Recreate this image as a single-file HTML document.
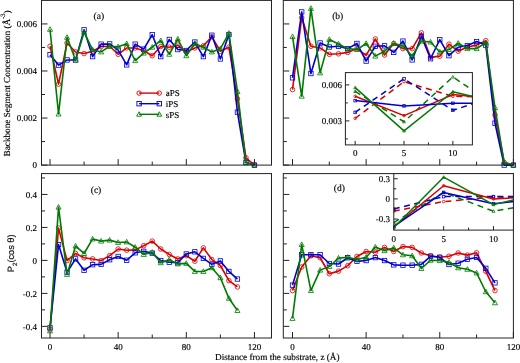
<!DOCTYPE html>
<html><head><meta charset="utf-8"><title>Figure</title>
<style>html,body{margin:0;padding:0;background:#fff;}svg{display:block;filter:blur(0.35px);}text{text-rendering:geometricPrecision;fill:#000;stroke:#000;stroke-width:0.15px;}</style>
</head><body>
<svg width="520" height="363" viewBox="0 0 520 363" font-family='"Liberation Serif", serif'>
<rect width="520" height="363" fill="#fff"/>
<defs>
<clipPath id="ca"><rect x="41.5" y="0.4" width="230" height="164.7"/></clipPath>
<clipPath id="cb"><rect x="283.3" y="0.4" width="230.1" height="164.7"/></clipPath>
<clipPath id="cc"><rect x="41.5" y="173.6" width="230" height="164.4"/></clipPath>
<clipPath id="cd"><rect x="283.3" y="173.6" width="230.1" height="164.4"/></clipPath>
</defs>
<g>
<polyline points="50.02,46.28 58.54,84.16 67.06,42.99 75.57,51.93 84.09,53.57 92.61,51.22 101.13,46.52 109.65,46.28 118.17,54.28 126.69,47.93 135.2,47.93 143.72,50.75 152.24,55.69 160.76,46.52 169.28,47.22 177.8,45.1 186.31,51.93 194.83,47.93 203.35,45.81 211.87,36.87 220.39,51.22 228.91,47.22 237.43,98.75 245.94,157.81 254.46,165.1" fill="none" stroke="#d80000" stroke-width="1.6" stroke-linejoin="round"/>
<circle cx="50.02" cy="46.28" r="2.3" fill="none" stroke="#d80000" stroke-width="0.8"/>
<circle cx="58.54" cy="84.16" r="2.3" fill="none" stroke="#d80000" stroke-width="0.8"/>
<circle cx="67.06" cy="42.99" r="2.3" fill="none" stroke="#d80000" stroke-width="0.8"/>
<circle cx="75.57" cy="51.93" r="2.3" fill="none" stroke="#d80000" stroke-width="0.8"/>
<circle cx="84.09" cy="53.57" r="2.3" fill="none" stroke="#d80000" stroke-width="0.8"/>
<circle cx="92.61" cy="51.22" r="2.3" fill="none" stroke="#d80000" stroke-width="0.8"/>
<circle cx="101.13" cy="46.52" r="2.3" fill="none" stroke="#d80000" stroke-width="0.8"/>
<circle cx="109.65" cy="46.28" r="2.3" fill="none" stroke="#d80000" stroke-width="0.8"/>
<circle cx="118.17" cy="54.28" r="2.3" fill="none" stroke="#d80000" stroke-width="0.8"/>
<circle cx="126.69" cy="47.93" r="2.3" fill="none" stroke="#d80000" stroke-width="0.8"/>
<circle cx="135.2" cy="47.93" r="2.3" fill="none" stroke="#d80000" stroke-width="0.8"/>
<circle cx="143.72" cy="50.75" r="2.3" fill="none" stroke="#d80000" stroke-width="0.8"/>
<circle cx="152.24" cy="55.69" r="2.3" fill="none" stroke="#d80000" stroke-width="0.8"/>
<circle cx="160.76" cy="46.52" r="2.3" fill="none" stroke="#d80000" stroke-width="0.8"/>
<circle cx="169.28" cy="47.22" r="2.3" fill="none" stroke="#d80000" stroke-width="0.8"/>
<circle cx="177.8" cy="45.1" r="2.3" fill="none" stroke="#d80000" stroke-width="0.8"/>
<circle cx="186.31" cy="51.93" r="2.3" fill="none" stroke="#d80000" stroke-width="0.8"/>
<circle cx="194.83" cy="47.93" r="2.3" fill="none" stroke="#d80000" stroke-width="0.8"/>
<circle cx="203.35" cy="45.81" r="2.3" fill="none" stroke="#d80000" stroke-width="0.8"/>
<circle cx="211.87" cy="36.87" r="2.3" fill="none" stroke="#d80000" stroke-width="0.8"/>
<circle cx="220.39" cy="51.22" r="2.3" fill="none" stroke="#d80000" stroke-width="0.8"/>
<circle cx="228.91" cy="47.22" r="2.3" fill="none" stroke="#d80000" stroke-width="0.8"/>
<circle cx="237.43" cy="98.75" r="2.3" fill="none" stroke="#d80000" stroke-width="0.8"/>
<circle cx="245.94" cy="157.81" r="2.3" fill="none" stroke="#d80000" stroke-width="0.8"/>
<circle cx="254.46" cy="165.1" r="2.3" fill="none" stroke="#d80000" stroke-width="0.8"/>
</g>
<g>
<polyline points="50.02,54.75 58.54,65.1 67.06,59.93 75.57,59.93 84.09,29.81 92.61,56.63 101.13,44.16 109.65,43.93 118.17,50.05 126.69,64.87 135.2,44.16 143.72,49.1 152.24,34.75 160.76,56.63 169.28,39.46 177.8,49.57 186.31,50.52 194.83,42.05 203.35,56.63 211.87,35.22 220.39,58.99 228.91,34.52 237.43,112.16 245.94,162.51 254.46,165.1" fill="none" stroke="#0000d0" stroke-width="1.6" stroke-linejoin="round"/>
<rect x="47.82" y="52.55" width="4.4" height="4.4" fill="none" stroke="#0000d0" stroke-width="0.8"/>
<rect x="56.34" y="62.9" width="4.4" height="4.4" fill="none" stroke="#0000d0" stroke-width="0.8"/>
<rect x="64.86" y="57.73" width="4.4" height="4.4" fill="none" stroke="#0000d0" stroke-width="0.8"/>
<rect x="73.37" y="57.73" width="4.4" height="4.4" fill="none" stroke="#0000d0" stroke-width="0.8"/>
<rect x="81.89" y="27.61" width="4.4" height="4.4" fill="none" stroke="#0000d0" stroke-width="0.8"/>
<rect x="90.41" y="54.43" width="4.4" height="4.4" fill="none" stroke="#0000d0" stroke-width="0.8"/>
<rect x="98.93" y="41.96" width="4.4" height="4.4" fill="none" stroke="#0000d0" stroke-width="0.8"/>
<rect x="107.45" y="41.73" width="4.4" height="4.4" fill="none" stroke="#0000d0" stroke-width="0.8"/>
<rect x="115.97" y="47.85" width="4.4" height="4.4" fill="none" stroke="#0000d0" stroke-width="0.8"/>
<rect x="124.49" y="62.67" width="4.4" height="4.4" fill="none" stroke="#0000d0" stroke-width="0.8"/>
<rect x="133" y="41.96" width="4.4" height="4.4" fill="none" stroke="#0000d0" stroke-width="0.8"/>
<rect x="141.52" y="46.9" width="4.4" height="4.4" fill="none" stroke="#0000d0" stroke-width="0.8"/>
<rect x="150.04" y="32.55" width="4.4" height="4.4" fill="none" stroke="#0000d0" stroke-width="0.8"/>
<rect x="158.56" y="54.43" width="4.4" height="4.4" fill="none" stroke="#0000d0" stroke-width="0.8"/>
<rect x="167.08" y="37.26" width="4.4" height="4.4" fill="none" stroke="#0000d0" stroke-width="0.8"/>
<rect x="175.6" y="47.37" width="4.4" height="4.4" fill="none" stroke="#0000d0" stroke-width="0.8"/>
<rect x="184.11" y="48.32" width="4.4" height="4.4" fill="none" stroke="#0000d0" stroke-width="0.8"/>
<rect x="192.63" y="39.85" width="4.4" height="4.4" fill="none" stroke="#0000d0" stroke-width="0.8"/>
<rect x="201.15" y="54.43" width="4.4" height="4.4" fill="none" stroke="#0000d0" stroke-width="0.8"/>
<rect x="209.67" y="33.02" width="4.4" height="4.4" fill="none" stroke="#0000d0" stroke-width="0.8"/>
<rect x="218.19" y="56.79" width="4.4" height="4.4" fill="none" stroke="#0000d0" stroke-width="0.8"/>
<rect x="226.71" y="32.32" width="4.4" height="4.4" fill="none" stroke="#0000d0" stroke-width="0.8"/>
<rect x="235.23" y="109.96" width="4.4" height="4.4" fill="none" stroke="#0000d0" stroke-width="0.8"/>
<rect x="243.74" y="160.31" width="4.4" height="4.4" fill="none" stroke="#0000d0" stroke-width="0.8"/>
<rect x="252.26" y="162.9" width="4.4" height="4.4" fill="none" stroke="#0000d0" stroke-width="0.8"/>
</g>
<g>
<polyline points="50.02,29.34 58.54,114.04 67.06,37.34 75.57,60.16 84.09,32.16 92.61,49.81 101.13,51.93 109.65,46.28 118.17,46.75 126.69,43.69 135.2,60.63 143.72,53.1 152.24,47.22 160.76,40.63 169.28,54.28 177.8,38.99 186.31,55.69 194.83,43.46 203.35,47.22 211.87,51.93 220.39,48.63 228.91,33.34 237.43,91.46 245.94,162.51 254.46,165.1" fill="none" stroke="#007a00" stroke-width="1.6" stroke-linejoin="round"/>
<path d="M50.02 26.7L52.55 31.32L47.49 31.32Z" fill="none" stroke="#007a00" stroke-width="0.8"/>
<path d="M58.54 111.4L61.07 116.03L56.01 116.03Z" fill="none" stroke="#007a00" stroke-width="0.8"/>
<path d="M67.06 34.69L69.59 39.32L64.53 39.32Z" fill="none" stroke="#007a00" stroke-width="0.8"/>
<path d="M75.57 57.52L78.1 62.15L73.04 62.15Z" fill="none" stroke="#007a00" stroke-width="0.8"/>
<path d="M84.09 29.52L86.62 34.15L81.56 34.15Z" fill="none" stroke="#007a00" stroke-width="0.8"/>
<path d="M92.61 47.17L95.14 51.79L90.08 51.79Z" fill="none" stroke="#007a00" stroke-width="0.8"/>
<path d="M101.13 49.28L103.66 53.91L98.6 53.91Z" fill="none" stroke="#007a00" stroke-width="0.8"/>
<path d="M109.65 43.64L112.18 48.26L107.12 48.26Z" fill="none" stroke="#007a00" stroke-width="0.8"/>
<path d="M118.17 44.11L120.7 48.74L115.64 48.74Z" fill="none" stroke="#007a00" stroke-width="0.8"/>
<path d="M126.69 41.05L129.22 45.68L124.16 45.68Z" fill="none" stroke="#007a00" stroke-width="0.8"/>
<path d="M135.2 57.99L137.73 62.62L132.67 62.62Z" fill="none" stroke="#007a00" stroke-width="0.8"/>
<path d="M143.72 50.46L146.25 55.09L141.19 55.09Z" fill="none" stroke="#007a00" stroke-width="0.8"/>
<path d="M152.24 44.58L154.77 49.21L149.71 49.21Z" fill="none" stroke="#007a00" stroke-width="0.8"/>
<path d="M160.76 37.99L163.29 42.62L158.23 42.62Z" fill="none" stroke="#007a00" stroke-width="0.8"/>
<path d="M169.28 51.64L171.81 56.26L166.75 56.26Z" fill="none" stroke="#007a00" stroke-width="0.8"/>
<path d="M177.8 36.34L180.33 40.97L175.27 40.97Z" fill="none" stroke="#007a00" stroke-width="0.8"/>
<path d="M186.31 53.05L188.84 57.68L183.78 57.68Z" fill="none" stroke="#007a00" stroke-width="0.8"/>
<path d="M194.83 40.81L197.36 45.44L192.3 45.44Z" fill="none" stroke="#007a00" stroke-width="0.8"/>
<path d="M203.35 44.58L205.88 49.21L200.82 49.21Z" fill="none" stroke="#007a00" stroke-width="0.8"/>
<path d="M211.87 49.28L214.4 53.91L209.34 53.91Z" fill="none" stroke="#007a00" stroke-width="0.8"/>
<path d="M220.39 45.99L222.92 50.62L217.86 50.62Z" fill="none" stroke="#007a00" stroke-width="0.8"/>
<path d="M228.91 30.7L231.44 35.32L226.38 35.32Z" fill="none" stroke="#007a00" stroke-width="0.8"/>
<path d="M237.43 88.81L239.96 93.44L234.9 93.44Z" fill="none" stroke="#007a00" stroke-width="0.8"/>
<path d="M245.94 159.87L248.47 164.5L243.41 164.5Z" fill="none" stroke="#007a00" stroke-width="0.8"/>
<path d="M254.46 162.45L256.99 167.08L251.93 167.08Z" fill="none" stroke="#007a00" stroke-width="0.8"/>
</g>
<rect x="41.5" y="0.4" width="230" height="164.7" fill="none" stroke="#222" stroke-width="1.0"/>
<path d="M50.02 165.1V159.1M118.17 165.1V159.1M186.31 165.1V159.1M254.46 165.1V159.1M84.09 165.1V161.6M152.24 165.1V161.6M220.39 165.1V161.6" stroke="#222" stroke-width="1.0" fill="none"/>
<path d="M41.5 165.1H47.5M41.5 118.04H47.5M41.5 70.99H47.5M41.5 23.93H47.5M41.5 141.57H45M41.5 94.51H45M41.5 47.46H45" stroke="#222" stroke-width="1.0" fill="none"/>
<text x="37" y="168.3" text-anchor="end" font-size="9">0</text>
<text x="37" y="121.24" text-anchor="end" font-size="9">0.002</text>
<text x="37" y="74.19" text-anchor="end" font-size="9">0.004</text>
<text x="37" y="27.13" text-anchor="end" font-size="9">0.006</text>
<text x="98.8" y="18.6" text-anchor="middle" font-size="9.5">(a)</text>
<line x1="139.1" y1="93.1" x2="159.3" y2="93.1" stroke="#d80000" stroke-width="1.4"/>
<circle cx="139.1" cy="93.1" r="2.2" fill="none" stroke="#d80000" stroke-width="0.9"/>
<circle cx="159.3" cy="93.1" r="2.2" fill="none" stroke="#d80000" stroke-width="0.9"/>
<text x="165.8" y="96.3" font-size="9">aPS</text>
<line x1="139.1" y1="103.7" x2="159.3" y2="103.7" stroke="#0000d0" stroke-width="1.4"/>
<rect x="136.9" y="101.5" width="4.4" height="4.4" fill="none" stroke="#0000d0" stroke-width="0.9"/>
<rect x="157.1" y="101.5" width="4.4" height="4.4" fill="none" stroke="#0000d0" stroke-width="0.9"/>
<text x="165.8" y="106.9" font-size="9">iPS</text>
<line x1="139.1" y1="114.3" x2="159.3" y2="114.3" stroke="#007a00" stroke-width="1.4"/>
<path d="M139.1 111.77L141.52 116.2L136.68 116.2Z" fill="none" stroke="#007a00" stroke-width="0.9"/>
<path d="M159.3 111.77L161.72 116.2L156.88 116.2Z" fill="none" stroke="#007a00" stroke-width="0.9"/>
<text x="165.8" y="117.5" font-size="9">sPS</text>
<g>
<polyline points="292.5,89.57 301.71,17.58 310.91,46.28 320.12,47.93 329.32,54.28 338.52,53.81 347.73,52.4 356.93,48.63 366.14,55.46 375.34,38.99 384.54,54.99 393.75,43.46 402.95,48.63 412.16,48.63 421.36,32.87 430.56,57.34 439.77,56.16 448.97,44.16 458.18,51.22 467.38,46.99 476.58,45.1 485.79,40.63 494.99,114.98 504.2,162.51 513.4,165.1" fill="none" stroke="#d80000" stroke-width="1.6" stroke-linejoin="round"/>
<circle cx="292.5" cy="89.57" r="2.3" fill="none" stroke="#d80000" stroke-width="0.8"/>
<circle cx="301.71" cy="17.58" r="2.3" fill="none" stroke="#d80000" stroke-width="0.8"/>
<circle cx="310.91" cy="46.28" r="2.3" fill="none" stroke="#d80000" stroke-width="0.8"/>
<circle cx="320.12" cy="47.93" r="2.3" fill="none" stroke="#d80000" stroke-width="0.8"/>
<circle cx="329.32" cy="54.28" r="2.3" fill="none" stroke="#d80000" stroke-width="0.8"/>
<circle cx="338.52" cy="53.81" r="2.3" fill="none" stroke="#d80000" stroke-width="0.8"/>
<circle cx="347.73" cy="52.4" r="2.3" fill="none" stroke="#d80000" stroke-width="0.8"/>
<circle cx="356.93" cy="48.63" r="2.3" fill="none" stroke="#d80000" stroke-width="0.8"/>
<circle cx="366.14" cy="55.46" r="2.3" fill="none" stroke="#d80000" stroke-width="0.8"/>
<circle cx="375.34" cy="38.99" r="2.3" fill="none" stroke="#d80000" stroke-width="0.8"/>
<circle cx="384.54" cy="54.99" r="2.3" fill="none" stroke="#d80000" stroke-width="0.8"/>
<circle cx="393.75" cy="43.46" r="2.3" fill="none" stroke="#d80000" stroke-width="0.8"/>
<circle cx="402.95" cy="48.63" r="2.3" fill="none" stroke="#d80000" stroke-width="0.8"/>
<circle cx="412.16" cy="48.63" r="2.3" fill="none" stroke="#d80000" stroke-width="0.8"/>
<circle cx="421.36" cy="32.87" r="2.3" fill="none" stroke="#d80000" stroke-width="0.8"/>
<circle cx="430.56" cy="57.34" r="2.3" fill="none" stroke="#d80000" stroke-width="0.8"/>
<circle cx="439.77" cy="56.16" r="2.3" fill="none" stroke="#d80000" stroke-width="0.8"/>
<circle cx="448.97" cy="44.16" r="2.3" fill="none" stroke="#d80000" stroke-width="0.8"/>
<circle cx="458.18" cy="51.22" r="2.3" fill="none" stroke="#d80000" stroke-width="0.8"/>
<circle cx="467.38" cy="46.99" r="2.3" fill="none" stroke="#d80000" stroke-width="0.8"/>
<circle cx="476.58" cy="45.1" r="2.3" fill="none" stroke="#d80000" stroke-width="0.8"/>
<circle cx="485.79" cy="40.63" r="2.3" fill="none" stroke="#d80000" stroke-width="0.8"/>
<circle cx="494.99" cy="114.98" r="2.3" fill="none" stroke="#d80000" stroke-width="0.8"/>
<circle cx="504.2" cy="162.51" r="2.3" fill="none" stroke="#d80000" stroke-width="0.8"/>
<circle cx="513.4" cy="165.1" r="2.3" fill="none" stroke="#d80000" stroke-width="0.8"/>
</g>
<g>
<polyline points="292.5,77.81 301.71,11.93 310.91,73.57 320.12,42.99 329.32,46.99 338.52,46.28 347.73,48.63 356.93,43.46 366.14,61.1 375.34,46.28 384.54,45.81 393.75,52.4 402.95,41.1 412.16,59.93 421.36,36.4 430.56,58.75 439.77,39.69 448.97,55.69 458.18,47.22 467.38,45.57 476.58,41.58 485.79,45.1 494.99,123.22 504.2,165.1 513.4,165.1" fill="none" stroke="#0000d0" stroke-width="1.6" stroke-linejoin="round"/>
<rect x="290.3" y="75.61" width="4.4" height="4.4" fill="none" stroke="#0000d0" stroke-width="0.8"/>
<rect x="299.51" y="9.73" width="4.4" height="4.4" fill="none" stroke="#0000d0" stroke-width="0.8"/>
<rect x="308.71" y="71.37" width="4.4" height="4.4" fill="none" stroke="#0000d0" stroke-width="0.8"/>
<rect x="317.92" y="40.79" width="4.4" height="4.4" fill="none" stroke="#0000d0" stroke-width="0.8"/>
<rect x="327.12" y="44.79" width="4.4" height="4.4" fill="none" stroke="#0000d0" stroke-width="0.8"/>
<rect x="336.32" y="44.08" width="4.4" height="4.4" fill="none" stroke="#0000d0" stroke-width="0.8"/>
<rect x="345.53" y="46.43" width="4.4" height="4.4" fill="none" stroke="#0000d0" stroke-width="0.8"/>
<rect x="354.73" y="41.26" width="4.4" height="4.4" fill="none" stroke="#0000d0" stroke-width="0.8"/>
<rect x="363.94" y="58.9" width="4.4" height="4.4" fill="none" stroke="#0000d0" stroke-width="0.8"/>
<rect x="373.14" y="44.08" width="4.4" height="4.4" fill="none" stroke="#0000d0" stroke-width="0.8"/>
<rect x="382.34" y="43.61" width="4.4" height="4.4" fill="none" stroke="#0000d0" stroke-width="0.8"/>
<rect x="391.55" y="50.2" width="4.4" height="4.4" fill="none" stroke="#0000d0" stroke-width="0.8"/>
<rect x="400.75" y="38.9" width="4.4" height="4.4" fill="none" stroke="#0000d0" stroke-width="0.8"/>
<rect x="409.96" y="57.73" width="4.4" height="4.4" fill="none" stroke="#0000d0" stroke-width="0.8"/>
<rect x="419.16" y="34.2" width="4.4" height="4.4" fill="none" stroke="#0000d0" stroke-width="0.8"/>
<rect x="428.36" y="56.55" width="4.4" height="4.4" fill="none" stroke="#0000d0" stroke-width="0.8"/>
<rect x="437.57" y="37.49" width="4.4" height="4.4" fill="none" stroke="#0000d0" stroke-width="0.8"/>
<rect x="446.77" y="53.49" width="4.4" height="4.4" fill="none" stroke="#0000d0" stroke-width="0.8"/>
<rect x="455.98" y="45.02" width="4.4" height="4.4" fill="none" stroke="#0000d0" stroke-width="0.8"/>
<rect x="465.18" y="43.37" width="4.4" height="4.4" fill="none" stroke="#0000d0" stroke-width="0.8"/>
<rect x="474.38" y="39.38" width="4.4" height="4.4" fill="none" stroke="#0000d0" stroke-width="0.8"/>
<rect x="483.59" y="42.9" width="4.4" height="4.4" fill="none" stroke="#0000d0" stroke-width="0.8"/>
<rect x="492.79" y="121.02" width="4.4" height="4.4" fill="none" stroke="#0000d0" stroke-width="0.8"/>
<rect x="502" y="162.9" width="4.4" height="4.4" fill="none" stroke="#0000d0" stroke-width="0.8"/>
<rect x="511.2" y="162.9" width="4.4" height="4.4" fill="none" stroke="#0000d0" stroke-width="0.8"/>
</g>
<g>
<polyline points="292.5,36.63 301.71,96.16 310.91,8.4 320.12,72.87 329.32,39.46 338.52,43.93 347.73,48.63 356.93,49.57 366.14,43.46 375.34,56.16 384.54,51.22 393.75,43.46 402.95,45.81 412.16,56.16 421.36,41.1 430.56,42.05 439.77,51.93 448.97,49.57 458.18,43.22 467.38,48.63 476.58,48.63 485.79,42.75 494.99,107.69 504.2,162.51 513.4,165.1" fill="none" stroke="#007a00" stroke-width="1.6" stroke-linejoin="round"/>
<path d="M292.5 33.99L295.03 38.62L289.97 38.62Z" fill="none" stroke="#007a00" stroke-width="0.8"/>
<path d="M301.71 93.52L304.24 98.15L299.18 98.15Z" fill="none" stroke="#007a00" stroke-width="0.8"/>
<path d="M310.91 5.75L313.44 10.38L308.38 10.38Z" fill="none" stroke="#007a00" stroke-width="0.8"/>
<path d="M320.12 70.22L322.65 74.85L317.59 74.85Z" fill="none" stroke="#007a00" stroke-width="0.8"/>
<path d="M329.32 36.81L331.85 41.44L326.79 41.44Z" fill="none" stroke="#007a00" stroke-width="0.8"/>
<path d="M338.52 41.28L341.05 45.91L335.99 45.91Z" fill="none" stroke="#007a00" stroke-width="0.8"/>
<path d="M347.73 45.99L350.26 50.62L345.2 50.62Z" fill="none" stroke="#007a00" stroke-width="0.8"/>
<path d="M356.93 46.93L359.46 51.56L354.4 51.56Z" fill="none" stroke="#007a00" stroke-width="0.8"/>
<path d="M366.14 40.81L368.67 45.44L363.61 45.44Z" fill="none" stroke="#007a00" stroke-width="0.8"/>
<path d="M375.34 53.52L377.87 58.15L372.81 58.15Z" fill="none" stroke="#007a00" stroke-width="0.8"/>
<path d="M384.54 48.58L387.07 53.21L382.01 53.21Z" fill="none" stroke="#007a00" stroke-width="0.8"/>
<path d="M393.75 40.81L396.28 45.44L391.22 45.44Z" fill="none" stroke="#007a00" stroke-width="0.8"/>
<path d="M402.95 43.17L405.48 47.79L400.42 47.79Z" fill="none" stroke="#007a00" stroke-width="0.8"/>
<path d="M412.16 53.52L414.69 58.15L409.63 58.15Z" fill="none" stroke="#007a00" stroke-width="0.8"/>
<path d="M421.36 38.46L423.89 43.09L418.83 43.09Z" fill="none" stroke="#007a00" stroke-width="0.8"/>
<path d="M430.56 39.4L433.09 44.03L428.03 44.03Z" fill="none" stroke="#007a00" stroke-width="0.8"/>
<path d="M439.77 49.28L442.3 53.91L437.24 53.91Z" fill="none" stroke="#007a00" stroke-width="0.8"/>
<path d="M448.97 46.93L451.5 51.56L446.44 51.56Z" fill="none" stroke="#007a00" stroke-width="0.8"/>
<path d="M458.18 40.58L460.71 45.21L455.65 45.21Z" fill="none" stroke="#007a00" stroke-width="0.8"/>
<path d="M467.38 45.99L469.91 50.62L464.85 50.62Z" fill="none" stroke="#007a00" stroke-width="0.8"/>
<path d="M476.58 45.99L479.11 50.62L474.05 50.62Z" fill="none" stroke="#007a00" stroke-width="0.8"/>
<path d="M485.79 40.11L488.32 44.74L483.26 44.74Z" fill="none" stroke="#007a00" stroke-width="0.8"/>
<path d="M494.99 105.05L497.52 109.67L492.46 109.67Z" fill="none" stroke="#007a00" stroke-width="0.8"/>
<path d="M504.2 159.87L506.73 164.5L501.67 164.5Z" fill="none" stroke="#007a00" stroke-width="0.8"/>
<path d="M513.4 162.45L515.93 167.08L510.87 167.08Z" fill="none" stroke="#007a00" stroke-width="0.8"/>
</g>
<rect x="283.3" y="0.4" width="230.1" height="164.7" fill="none" stroke="#222" stroke-width="1.0"/>
<path d="M292.5 165.1V159.1M366.14 165.1V159.1M439.77 165.1V159.1M513.4 165.1V159.1M329.32 165.1V161.6M402.95 165.1V161.6M476.58 165.1V161.6" stroke="#222" stroke-width="1.0" fill="none"/>
<path d="M283.3 165.1H289.3M283.3 118.04H289.3M283.3 70.99H289.3M283.3 23.93H289.3M283.3 141.57H286.8M283.3 94.51H286.8M283.3 47.46H286.8" stroke="#222" stroke-width="1.0" fill="none"/>
<text x="337.7" y="18.6" text-anchor="middle" font-size="9.5">(b)</text>
<rect x="345.4" y="72.6" width="127" height="72.3" fill="#fff" stroke="none"/>
<clipPath id="cib"><rect x="345.4" y="72.6" width="127" height="72.3"/></clipPath>
<g clip-path="url(#cib)">
<polyline points="355.17,118.38 404.02,81.66 452.86,96.3 501.71,97.14" fill="none" stroke="#d80000" stroke-width="1.5" stroke-linejoin="round" stroke-dasharray="6,4.5"/>
<circle cx="355.17" cy="118.38" r="1.3" fill="none" stroke="#d80000" stroke-width="0.8"/>
<circle cx="404.02" cy="81.66" r="1.3" fill="none" stroke="#d80000" stroke-width="0.8"/>
<circle cx="452.86" cy="96.3" r="1.3" fill="none" stroke="#d80000" stroke-width="0.8"/>
</g>
<g clip-path="url(#cib)">
<polyline points="355.17,112.38 404.02,78.78 452.86,110.22 501.71,94.62" fill="none" stroke="#0000d0" stroke-width="1.5" stroke-linejoin="round" stroke-dasharray="6,4.5"/>
<rect x="353.87" y="111.08" width="2.6" height="2.6" fill="none" stroke="#0000d0" stroke-width="0.8"/>
<rect x="402.72" y="77.48" width="2.6" height="2.6" fill="none" stroke="#0000d0" stroke-width="0.8"/>
<rect x="451.56" y="108.92" width="2.6" height="2.6" fill="none" stroke="#0000d0" stroke-width="0.8"/>
</g>
<g clip-path="url(#cib)">
<polyline points="355.17,91.38 404.02,121.74 452.86,76.98 501.71,109.86" fill="none" stroke="#007a00" stroke-width="1.5" stroke-linejoin="round" stroke-dasharray="6,4.5"/>
<path d="M355.17 89.89L356.6 92.5L353.74 92.5Z" fill="none" stroke="#007a00" stroke-width="0.8"/>
<path d="M404.02 120.25L405.45 122.86L402.59 122.86Z" fill="none" stroke="#007a00" stroke-width="0.8"/>
<path d="M452.86 75.48L454.29 78.1L451.43 78.1Z" fill="none" stroke="#007a00" stroke-width="0.8"/>
</g>
<g clip-path="url(#cib)">
<polyline points="355.17,96.3 404.02,115.62 452.86,94.62 501.71,99.18" fill="none" stroke="#d80000" stroke-width="1.5" stroke-linejoin="round"/>
<circle cx="355.17" cy="96.3" r="1.3" fill="none" stroke="#d80000" stroke-width="0.8"/>
<circle cx="404.02" cy="115.62" r="1.3" fill="none" stroke="#d80000" stroke-width="0.8"/>
<circle cx="452.86" cy="94.62" r="1.3" fill="none" stroke="#d80000" stroke-width="0.8"/>
</g>
<g clip-path="url(#cib)">
<polyline points="355.17,100.62 404.02,105.9 452.86,103.26 501.71,103.26" fill="none" stroke="#0000d0" stroke-width="1.5" stroke-linejoin="round"/>
<rect x="353.87" y="99.32" width="2.6" height="2.6" fill="none" stroke="#0000d0" stroke-width="0.8"/>
<rect x="402.72" y="104.6" width="2.6" height="2.6" fill="none" stroke="#0000d0" stroke-width="0.8"/>
<rect x="451.56" y="101.96" width="2.6" height="2.6" fill="none" stroke="#0000d0" stroke-width="0.8"/>
</g>
<g clip-path="url(#cib)">
<polyline points="355.17,87.66 404.02,130.86 452.86,91.74 501.71,103.38" fill="none" stroke="#007a00" stroke-width="1.5" stroke-linejoin="round"/>
<path d="M355.17 86.17L356.6 88.78L353.74 88.78Z" fill="none" stroke="#007a00" stroke-width="0.8"/>
<path d="M404.02 129.37L405.45 131.98L402.59 131.98Z" fill="none" stroke="#007a00" stroke-width="0.8"/>
<path d="M452.86 90.25L454.29 92.86L451.43 92.86Z" fill="none" stroke="#007a00" stroke-width="0.8"/>
</g>
<rect x="345.4" y="72.6" width="127" height="72.3" fill="none" stroke="#222" stroke-width="1.0"/>
<path d="M355.17 144.9V140.9M404.02 144.9V140.9M452.86 144.9V140.9M379.59 144.9V142.4M428.44 144.9V142.4" stroke="#222" stroke-width="1.0" fill="none"/>
<text x="355.17" y="156.2" text-anchor="middle" font-size="9">0</text>
<text x="404.02" y="156.2" text-anchor="middle" font-size="9">5</text>
<text x="452.86" y="156.2" text-anchor="middle" font-size="9">10</text>
<path d="M345.4 120.9H349.4M345.4 84.9H349.4M345.4 138.9H347.9M345.4 102.9H347.9" stroke="#222" stroke-width="1.0" fill="none"/>
<text x="342" y="124.1" text-anchor="end" font-size="9">0.003</text>
<text x="342" y="88.1" text-anchor="end" font-size="9">0.006</text>
<g>
<polyline points="50.02,329.16 58.54,228.08 67.06,260.56 75.57,253.47 84.09,257.76 92.61,258.92 101.13,260.56 109.65,255.62 118.17,249.02 126.69,250.18 135.2,249.85 143.72,245.72 152.24,241.11 160.76,249.02 169.28,254.46 177.8,258.92 186.31,255.62 194.83,261.22 203.35,247.87 211.87,259.58 220.39,265.51 228.91,280.68 237.43,286.95" fill="none" stroke="#d80000" stroke-width="1.6" stroke-linejoin="round"/>
<circle cx="50.02" cy="329.16" r="2.3" fill="none" stroke="#d80000" stroke-width="0.8"/>
<circle cx="58.54" cy="228.08" r="2.3" fill="none" stroke="#d80000" stroke-width="0.8"/>
<circle cx="67.06" cy="260.56" r="2.3" fill="none" stroke="#d80000" stroke-width="0.8"/>
<circle cx="75.57" cy="253.47" r="2.3" fill="none" stroke="#d80000" stroke-width="0.8"/>
<circle cx="84.09" cy="257.76" r="2.3" fill="none" stroke="#d80000" stroke-width="0.8"/>
<circle cx="92.61" cy="258.92" r="2.3" fill="none" stroke="#d80000" stroke-width="0.8"/>
<circle cx="101.13" cy="260.56" r="2.3" fill="none" stroke="#d80000" stroke-width="0.8"/>
<circle cx="109.65" cy="255.62" r="2.3" fill="none" stroke="#d80000" stroke-width="0.8"/>
<circle cx="118.17" cy="249.02" r="2.3" fill="none" stroke="#d80000" stroke-width="0.8"/>
<circle cx="126.69" cy="250.18" r="2.3" fill="none" stroke="#d80000" stroke-width="0.8"/>
<circle cx="135.2" cy="249.85" r="2.3" fill="none" stroke="#d80000" stroke-width="0.8"/>
<circle cx="143.72" cy="245.72" r="2.3" fill="none" stroke="#d80000" stroke-width="0.8"/>
<circle cx="152.24" cy="241.11" r="2.3" fill="none" stroke="#d80000" stroke-width="0.8"/>
<circle cx="160.76" cy="249.02" r="2.3" fill="none" stroke="#d80000" stroke-width="0.8"/>
<circle cx="169.28" cy="254.46" r="2.3" fill="none" stroke="#d80000" stroke-width="0.8"/>
<circle cx="177.8" cy="258.92" r="2.3" fill="none" stroke="#d80000" stroke-width="0.8"/>
<circle cx="186.31" cy="255.62" r="2.3" fill="none" stroke="#d80000" stroke-width="0.8"/>
<circle cx="194.83" cy="261.22" r="2.3" fill="none" stroke="#d80000" stroke-width="0.8"/>
<circle cx="203.35" cy="247.87" r="2.3" fill="none" stroke="#d80000" stroke-width="0.8"/>
<circle cx="211.87" cy="259.58" r="2.3" fill="none" stroke="#d80000" stroke-width="0.8"/>
<circle cx="220.39" cy="265.51" r="2.3" fill="none" stroke="#d80000" stroke-width="0.8"/>
<circle cx="228.91" cy="280.68" r="2.3" fill="none" stroke="#d80000" stroke-width="0.8"/>
<circle cx="237.43" cy="286.95" r="2.3" fill="none" stroke="#d80000" stroke-width="0.8"/>
</g>
<g>
<polyline points="50.02,327.84 58.54,244.57 67.06,272.27 75.57,258.92 84.09,270.29 92.61,264.69 101.13,264.36 109.65,259.74 118.17,256.44 126.69,260.24 135.2,252.81 143.72,251.33 152.24,253.14 160.76,260.56 169.28,262.21 177.8,262.71 186.31,253.97 194.83,251.83 203.35,258.42 211.87,264.36 220.39,260.89 228.91,271.45 237.43,279.03" fill="none" stroke="#0000d0" stroke-width="1.6" stroke-linejoin="round"/>
<rect x="47.82" y="325.64" width="4.4" height="4.4" fill="none" stroke="#0000d0" stroke-width="0.8"/>
<rect x="56.34" y="242.37" width="4.4" height="4.4" fill="none" stroke="#0000d0" stroke-width="0.8"/>
<rect x="64.86" y="270.07" width="4.4" height="4.4" fill="none" stroke="#0000d0" stroke-width="0.8"/>
<rect x="73.37" y="256.72" width="4.4" height="4.4" fill="none" stroke="#0000d0" stroke-width="0.8"/>
<rect x="81.89" y="268.09" width="4.4" height="4.4" fill="none" stroke="#0000d0" stroke-width="0.8"/>
<rect x="90.41" y="262.49" width="4.4" height="4.4" fill="none" stroke="#0000d0" stroke-width="0.8"/>
<rect x="98.93" y="262.16" width="4.4" height="4.4" fill="none" stroke="#0000d0" stroke-width="0.8"/>
<rect x="107.45" y="257.54" width="4.4" height="4.4" fill="none" stroke="#0000d0" stroke-width="0.8"/>
<rect x="115.97" y="254.24" width="4.4" height="4.4" fill="none" stroke="#0000d0" stroke-width="0.8"/>
<rect x="124.49" y="258.04" width="4.4" height="4.4" fill="none" stroke="#0000d0" stroke-width="0.8"/>
<rect x="133" y="250.61" width="4.4" height="4.4" fill="none" stroke="#0000d0" stroke-width="0.8"/>
<rect x="141.52" y="249.13" width="4.4" height="4.4" fill="none" stroke="#0000d0" stroke-width="0.8"/>
<rect x="150.04" y="250.94" width="4.4" height="4.4" fill="none" stroke="#0000d0" stroke-width="0.8"/>
<rect x="158.56" y="258.36" width="4.4" height="4.4" fill="none" stroke="#0000d0" stroke-width="0.8"/>
<rect x="167.08" y="260.01" width="4.4" height="4.4" fill="none" stroke="#0000d0" stroke-width="0.8"/>
<rect x="175.6" y="260.51" width="4.4" height="4.4" fill="none" stroke="#0000d0" stroke-width="0.8"/>
<rect x="184.11" y="251.77" width="4.4" height="4.4" fill="none" stroke="#0000d0" stroke-width="0.8"/>
<rect x="192.63" y="249.63" width="4.4" height="4.4" fill="none" stroke="#0000d0" stroke-width="0.8"/>
<rect x="201.15" y="256.22" width="4.4" height="4.4" fill="none" stroke="#0000d0" stroke-width="0.8"/>
<rect x="209.67" y="262.16" width="4.4" height="4.4" fill="none" stroke="#0000d0" stroke-width="0.8"/>
<rect x="218.19" y="258.69" width="4.4" height="4.4" fill="none" stroke="#0000d0" stroke-width="0.8"/>
<rect x="226.71" y="269.25" width="4.4" height="4.4" fill="none" stroke="#0000d0" stroke-width="0.8"/>
<rect x="235.23" y="276.83" width="4.4" height="4.4" fill="none" stroke="#0000d0" stroke-width="0.8"/>
</g>
<g>
<polyline points="50.02,330.81 58.54,207.14 67.06,274.42 75.57,246.05 84.09,253.47 92.61,238.96 101.13,241.11 109.65,240.12 118.17,242.43 126.69,241.93 135.2,247.21 143.72,254.46 152.24,252.32 160.76,262.71 169.28,259.74 177.8,263.86 186.31,263.37 194.83,271.45 203.35,271.45 211.87,267.82 220.39,277.71 228.91,298.33 237.43,310.53" fill="none" stroke="#007a00" stroke-width="1.6" stroke-linejoin="round"/>
<path d="M50.02 328.17L52.55 332.8L47.49 332.8Z" fill="none" stroke="#007a00" stroke-width="0.8"/>
<path d="M58.54 204.49L61.07 209.12L56.01 209.12Z" fill="none" stroke="#007a00" stroke-width="0.8"/>
<path d="M67.06 271.77L69.59 276.4L64.53 276.4Z" fill="none" stroke="#007a00" stroke-width="0.8"/>
<path d="M75.57 243.41L78.1 248.04L73.04 248.04Z" fill="none" stroke="#007a00" stroke-width="0.8"/>
<path d="M84.09 250.83L86.62 255.46L81.56 255.46Z" fill="none" stroke="#007a00" stroke-width="0.8"/>
<path d="M92.61 236.32L95.14 240.95L90.08 240.95Z" fill="none" stroke="#007a00" stroke-width="0.8"/>
<path d="M101.13 238.46L103.66 243.09L98.6 243.09Z" fill="none" stroke="#007a00" stroke-width="0.8"/>
<path d="M109.65 237.47L112.18 242.1L107.12 242.1Z" fill="none" stroke="#007a00" stroke-width="0.8"/>
<path d="M118.17 239.78L120.7 244.41L115.64 244.41Z" fill="none" stroke="#007a00" stroke-width="0.8"/>
<path d="M126.69 239.29L129.22 243.91L124.16 243.91Z" fill="none" stroke="#007a00" stroke-width="0.8"/>
<path d="M135.2 244.56L137.73 249.19L132.67 249.19Z" fill="none" stroke="#007a00" stroke-width="0.8"/>
<path d="M143.72 251.82L146.25 256.45L141.19 256.45Z" fill="none" stroke="#007a00" stroke-width="0.8"/>
<path d="M152.24 249.67L154.77 254.3L149.71 254.3Z" fill="none" stroke="#007a00" stroke-width="0.8"/>
<path d="M160.76 260.06L163.29 264.69L158.23 264.69Z" fill="none" stroke="#007a00" stroke-width="0.8"/>
<path d="M169.28 257.1L171.81 261.72L166.75 261.72Z" fill="none" stroke="#007a00" stroke-width="0.8"/>
<path d="M177.8 261.22L180.33 265.85L175.27 265.85Z" fill="none" stroke="#007a00" stroke-width="0.8"/>
<path d="M186.31 260.72L188.84 265.35L183.78 265.35Z" fill="none" stroke="#007a00" stroke-width="0.8"/>
<path d="M194.83 268.8L197.36 273.43L192.3 273.43Z" fill="none" stroke="#007a00" stroke-width="0.8"/>
<path d="M203.35 268.8L205.88 273.43L200.82 273.43Z" fill="none" stroke="#007a00" stroke-width="0.8"/>
<path d="M211.87 265.18L214.4 269.8L209.34 269.8Z" fill="none" stroke="#007a00" stroke-width="0.8"/>
<path d="M220.39 275.07L222.92 279.7L217.86 279.7Z" fill="none" stroke="#007a00" stroke-width="0.8"/>
<path d="M228.91 295.68L231.44 300.31L226.38 300.31Z" fill="none" stroke="#007a00" stroke-width="0.8"/>
<path d="M237.43 307.88L239.96 312.51L234.9 312.51Z" fill="none" stroke="#007a00" stroke-width="0.8"/>
</g>
<rect x="41.5" y="173.6" width="230" height="164.4" fill="none" stroke="#222" stroke-width="1.0"/>
<path d="M50.02 338V332M118.17 338V332M186.31 338V332M254.46 338V332M84.09 338V334.5M152.24 338V334.5M220.39 338V334.5" stroke="#222" stroke-width="1.0" fill="none"/>
<text x="50.02" y="349.8" text-anchor="middle" font-size="9">0</text>
<text x="118.17" y="349.8" text-anchor="middle" font-size="9">40</text>
<text x="186.31" y="349.8" text-anchor="middle" font-size="9">80</text>
<text x="254.46" y="349.8" text-anchor="middle" font-size="9">120</text>
<path d="M41.5 326.36H47.5M41.5 293.38H47.5M41.5 260.4H47.5M41.5 227.42H47.5M41.5 194.44H47.5M41.5 309.87H45M41.5 276.89H45M41.5 243.91H45M41.5 210.93H45M41.5 177.95H45" stroke="#222" stroke-width="1.0" fill="none"/>
<text x="37" y="329.56" text-anchor="end" font-size="9">-0.4</text>
<text x="37" y="296.58" text-anchor="end" font-size="9">-0.2</text>
<text x="37" y="263.6" text-anchor="end" font-size="9">0</text>
<text x="37" y="230.62" text-anchor="end" font-size="9">0.2</text>
<text x="37" y="197.64" text-anchor="end" font-size="9">0.4</text>
<text x="96" y="192.8" text-anchor="middle" font-size="9.5">(c)</text>
<g>
<polyline points="292.5,290.58 301.71,267 310.91,255.78 320.12,257.76 329.32,273.76 338.52,271.12 347.73,265.68 356.93,256.44 366.14,251.5 375.34,252.32 384.54,247.37 393.75,251.5 402.95,246.55 412.16,247.37 421.36,252.98 430.56,255.78 439.77,257.27 448.97,256.28 458.18,252.98 467.38,255.12 476.58,252.81 485.79,271.28 494.99,290.58" fill="none" stroke="#d80000" stroke-width="1.6" stroke-linejoin="round"/>
<circle cx="292.5" cy="290.58" r="2.3" fill="none" stroke="#d80000" stroke-width="0.8"/>
<circle cx="301.71" cy="267" r="2.3" fill="none" stroke="#d80000" stroke-width="0.8"/>
<circle cx="310.91" cy="255.78" r="2.3" fill="none" stroke="#d80000" stroke-width="0.8"/>
<circle cx="320.12" cy="257.76" r="2.3" fill="none" stroke="#d80000" stroke-width="0.8"/>
<circle cx="329.32" cy="273.76" r="2.3" fill="none" stroke="#d80000" stroke-width="0.8"/>
<circle cx="338.52" cy="271.12" r="2.3" fill="none" stroke="#d80000" stroke-width="0.8"/>
<circle cx="347.73" cy="265.68" r="2.3" fill="none" stroke="#d80000" stroke-width="0.8"/>
<circle cx="356.93" cy="256.44" r="2.3" fill="none" stroke="#d80000" stroke-width="0.8"/>
<circle cx="366.14" cy="251.5" r="2.3" fill="none" stroke="#d80000" stroke-width="0.8"/>
<circle cx="375.34" cy="252.32" r="2.3" fill="none" stroke="#d80000" stroke-width="0.8"/>
<circle cx="384.54" cy="247.37" r="2.3" fill="none" stroke="#d80000" stroke-width="0.8"/>
<circle cx="393.75" cy="251.5" r="2.3" fill="none" stroke="#d80000" stroke-width="0.8"/>
<circle cx="402.95" cy="246.55" r="2.3" fill="none" stroke="#d80000" stroke-width="0.8"/>
<circle cx="412.16" cy="247.37" r="2.3" fill="none" stroke="#d80000" stroke-width="0.8"/>
<circle cx="421.36" cy="252.98" r="2.3" fill="none" stroke="#d80000" stroke-width="0.8"/>
<circle cx="430.56" cy="255.78" r="2.3" fill="none" stroke="#d80000" stroke-width="0.8"/>
<circle cx="439.77" cy="257.27" r="2.3" fill="none" stroke="#d80000" stroke-width="0.8"/>
<circle cx="448.97" cy="256.28" r="2.3" fill="none" stroke="#d80000" stroke-width="0.8"/>
<circle cx="458.18" cy="252.98" r="2.3" fill="none" stroke="#d80000" stroke-width="0.8"/>
<circle cx="467.38" cy="255.12" r="2.3" fill="none" stroke="#d80000" stroke-width="0.8"/>
<circle cx="476.58" cy="252.81" r="2.3" fill="none" stroke="#d80000" stroke-width="0.8"/>
<circle cx="485.79" cy="271.28" r="2.3" fill="none" stroke="#d80000" stroke-width="0.8"/>
<circle cx="494.99" cy="290.58" r="2.3" fill="none" stroke="#d80000" stroke-width="0.8"/>
</g>
<g>
<polyline points="292.5,285.13 301.71,254.79 310.91,254.79 320.12,254.79 329.32,263.53 338.52,264.03 347.73,257.76 356.93,261.39 366.14,260.56 375.34,257.6 384.54,260.56 393.75,264.85 402.95,265.18 412.16,265.18 421.36,264.36 430.56,256.28 439.77,257.27 448.97,264.52 458.18,263.2 467.38,259.25 476.58,257.43 485.79,268.32 494.99,282.83" fill="none" stroke="#0000d0" stroke-width="1.6" stroke-linejoin="round"/>
<rect x="290.3" y="282.94" width="4.4" height="4.4" fill="none" stroke="#0000d0" stroke-width="0.8"/>
<rect x="299.51" y="252.59" width="4.4" height="4.4" fill="none" stroke="#0000d0" stroke-width="0.8"/>
<rect x="308.71" y="252.59" width="4.4" height="4.4" fill="none" stroke="#0000d0" stroke-width="0.8"/>
<rect x="317.92" y="252.59" width="4.4" height="4.4" fill="none" stroke="#0000d0" stroke-width="0.8"/>
<rect x="327.12" y="261.33" width="4.4" height="4.4" fill="none" stroke="#0000d0" stroke-width="0.8"/>
<rect x="336.32" y="261.83" width="4.4" height="4.4" fill="none" stroke="#0000d0" stroke-width="0.8"/>
<rect x="345.53" y="255.56" width="4.4" height="4.4" fill="none" stroke="#0000d0" stroke-width="0.8"/>
<rect x="354.73" y="259.19" width="4.4" height="4.4" fill="none" stroke="#0000d0" stroke-width="0.8"/>
<rect x="363.94" y="258.36" width="4.4" height="4.4" fill="none" stroke="#0000d0" stroke-width="0.8"/>
<rect x="373.14" y="255.4" width="4.4" height="4.4" fill="none" stroke="#0000d0" stroke-width="0.8"/>
<rect x="382.34" y="258.36" width="4.4" height="4.4" fill="none" stroke="#0000d0" stroke-width="0.8"/>
<rect x="391.55" y="262.65" width="4.4" height="4.4" fill="none" stroke="#0000d0" stroke-width="0.8"/>
<rect x="400.75" y="262.98" width="4.4" height="4.4" fill="none" stroke="#0000d0" stroke-width="0.8"/>
<rect x="409.96" y="262.98" width="4.4" height="4.4" fill="none" stroke="#0000d0" stroke-width="0.8"/>
<rect x="419.16" y="262.16" width="4.4" height="4.4" fill="none" stroke="#0000d0" stroke-width="0.8"/>
<rect x="428.36" y="254.08" width="4.4" height="4.4" fill="none" stroke="#0000d0" stroke-width="0.8"/>
<rect x="437.57" y="255.07" width="4.4" height="4.4" fill="none" stroke="#0000d0" stroke-width="0.8"/>
<rect x="446.77" y="262.32" width="4.4" height="4.4" fill="none" stroke="#0000d0" stroke-width="0.8"/>
<rect x="455.98" y="261" width="4.4" height="4.4" fill="none" stroke="#0000d0" stroke-width="0.8"/>
<rect x="465.18" y="257.05" width="4.4" height="4.4" fill="none" stroke="#0000d0" stroke-width="0.8"/>
<rect x="474.38" y="255.23" width="4.4" height="4.4" fill="none" stroke="#0000d0" stroke-width="0.8"/>
<rect x="483.59" y="266.12" width="4.4" height="4.4" fill="none" stroke="#0000d0" stroke-width="0.8"/>
<rect x="492.79" y="280.63" width="4.4" height="4.4" fill="none" stroke="#0000d0" stroke-width="0.8"/>
</g>
<g>
<polyline points="292.5,318.44 301.71,244.57 310.91,290.58 320.12,270.13 329.32,266.5 338.52,258.09 347.73,257.27 356.93,259.58 366.14,257.27 375.34,247.04 384.54,250.67 393.75,247.87 402.95,254.79 412.16,255.78 421.36,268.48 430.56,260.24 439.77,260.56 448.97,262.38 458.18,267.82 467.38,269.3 476.58,272.93 485.79,291.73 494.99,302.78" fill="none" stroke="#007a00" stroke-width="1.6" stroke-linejoin="round"/>
<path d="M292.5 315.8L295.03 320.43L289.97 320.43Z" fill="none" stroke="#007a00" stroke-width="0.8"/>
<path d="M301.71 241.92L304.24 246.55L299.18 246.55Z" fill="none" stroke="#007a00" stroke-width="0.8"/>
<path d="M310.91 287.93L313.44 292.56L308.38 292.56Z" fill="none" stroke="#007a00" stroke-width="0.8"/>
<path d="M320.12 267.48L322.65 272.11L317.59 272.11Z" fill="none" stroke="#007a00" stroke-width="0.8"/>
<path d="M329.32 263.86L331.85 268.49L326.79 268.49Z" fill="none" stroke="#007a00" stroke-width="0.8"/>
<path d="M338.52 255.45L341.05 260.08L335.99 260.08Z" fill="none" stroke="#007a00" stroke-width="0.8"/>
<path d="M347.73 254.62L350.26 259.25L345.2 259.25Z" fill="none" stroke="#007a00" stroke-width="0.8"/>
<path d="M356.93 256.93L359.46 261.56L354.4 261.56Z" fill="none" stroke="#007a00" stroke-width="0.8"/>
<path d="M366.14 254.62L368.67 259.25L363.61 259.25Z" fill="none" stroke="#007a00" stroke-width="0.8"/>
<path d="M375.34 244.4L377.87 249.03L372.81 249.03Z" fill="none" stroke="#007a00" stroke-width="0.8"/>
<path d="M384.54 248.03L387.07 252.65L382.01 252.65Z" fill="none" stroke="#007a00" stroke-width="0.8"/>
<path d="M393.75 245.22L396.28 249.85L391.22 249.85Z" fill="none" stroke="#007a00" stroke-width="0.8"/>
<path d="M402.95 252.15L405.48 256.78L400.42 256.78Z" fill="none" stroke="#007a00" stroke-width="0.8"/>
<path d="M412.16 253.14L414.69 257.77L409.63 257.77Z" fill="none" stroke="#007a00" stroke-width="0.8"/>
<path d="M421.36 265.84L423.89 270.46L418.83 270.46Z" fill="none" stroke="#007a00" stroke-width="0.8"/>
<path d="M430.56 257.59L433.09 262.22L428.03 262.22Z" fill="none" stroke="#007a00" stroke-width="0.8"/>
<path d="M439.77 257.92L442.3 262.55L437.24 262.55Z" fill="none" stroke="#007a00" stroke-width="0.8"/>
<path d="M448.97 259.73L451.5 264.36L446.44 264.36Z" fill="none" stroke="#007a00" stroke-width="0.8"/>
<path d="M458.18 265.18L460.71 269.8L455.65 269.8Z" fill="none" stroke="#007a00" stroke-width="0.8"/>
<path d="M467.38 266.66L469.91 271.29L464.85 271.29Z" fill="none" stroke="#007a00" stroke-width="0.8"/>
<path d="M476.58 270.29L479.11 274.92L474.05 274.92Z" fill="none" stroke="#007a00" stroke-width="0.8"/>
<path d="M485.79 289.09L488.32 293.71L483.26 293.71Z" fill="none" stroke="#007a00" stroke-width="0.8"/>
<path d="M494.99 300.13L497.52 304.76L492.46 304.76Z" fill="none" stroke="#007a00" stroke-width="0.8"/>
</g>
<rect x="283.3" y="173.6" width="230.1" height="164.4" fill="none" stroke="#222" stroke-width="1.0"/>
<path d="M292.5 338V332M366.14 338V332M439.77 338V332M513.4 338V332M329.32 338V334.5M402.95 338V334.5M476.58 338V334.5" stroke="#222" stroke-width="1.0" fill="none"/>
<text x="292.5" y="349.8" text-anchor="middle" font-size="9">0</text>
<text x="366.14" y="349.8" text-anchor="middle" font-size="9">40</text>
<text x="439.77" y="349.8" text-anchor="middle" font-size="9">80</text>
<text x="513.4" y="349.8" text-anchor="middle" font-size="9">120</text>
<path d="M283.3 326.36H289.3M283.3 293.38H289.3M283.3 260.4H289.3M283.3 227.42H289.3M283.3 194.44H289.3M283.3 309.87H286.8M283.3 276.89H286.8M283.3 243.91H286.8M283.3 210.93H286.8M283.3 177.95H286.8" stroke="#222" stroke-width="1.0" fill="none"/>
<text x="339.3" y="190.5" text-anchor="middle" font-size="9.5">(d)</text>
<rect x="393.8" y="173.6" width="119.6" height="56.5" fill="#fff" stroke="none"/>
<clipPath id="cid"><rect x="393.8" y="173.6" width="119.6" height="56.5"/></clipPath>
<g clip-path="url(#cid)">
<polyline points="393.8,211.2 443.63,201.59 493.47,197.02 543.3,197.82" fill="none" stroke="#d80000" stroke-width="1.5" stroke-linejoin="round" stroke-dasharray="6,4.5"/>
<circle cx="393.8" cy="211.2" r="1.3" fill="none" stroke="#d80000" stroke-width="0.8"/>
<circle cx="443.63" cy="201.59" r="1.3" fill="none" stroke="#d80000" stroke-width="0.8"/>
<circle cx="493.47" cy="197.02" r="1.3" fill="none" stroke="#d80000" stroke-width="0.8"/>
</g>
<g clip-path="url(#cid)">
<polyline points="393.8,208.98 443.63,196.62 493.47,196.62 543.3,196.62" fill="none" stroke="#0000d0" stroke-width="1.5" stroke-linejoin="round" stroke-dasharray="6,4.5"/>
<rect x="392.5" y="207.68" width="2.6" height="2.6" fill="none" stroke="#0000d0" stroke-width="0.8"/>
<rect x="442.33" y="195.32" width="2.6" height="2.6" fill="none" stroke="#0000d0" stroke-width="0.8"/>
<rect x="492.17" y="195.32" width="2.6" height="2.6" fill="none" stroke="#0000d0" stroke-width="0.8"/>
</g>
<g clip-path="url(#cid)">
<polyline points="393.8,222.55 443.63,192.45 493.47,211.2 543.3,202.86" fill="none" stroke="#007a00" stroke-width="1.5" stroke-linejoin="round" stroke-dasharray="6,4.5"/>
<path d="M393.8 221.06L395.23 223.68L392.37 223.68Z" fill="none" stroke="#007a00" stroke-width="0.8"/>
<path d="M443.63 190.95L445.06 193.57L442.2 193.57Z" fill="none" stroke="#007a00" stroke-width="0.8"/>
<path d="M493.47 209.7L494.9 212.32L492.04 212.32Z" fill="none" stroke="#007a00" stroke-width="0.8"/>
</g>
<g clip-path="url(#cid)">
<polyline points="393.8,226.92 443.63,185.73 493.47,198.97 543.3,196.08" fill="none" stroke="#d80000" stroke-width="1.5" stroke-linejoin="round"/>
<circle cx="393.8" cy="226.92" r="1.3" fill="none" stroke="#d80000" stroke-width="0.8"/>
<circle cx="443.63" cy="185.73" r="1.3" fill="none" stroke="#d80000" stroke-width="0.8"/>
<circle cx="493.47" cy="198.97" r="1.3" fill="none" stroke="#d80000" stroke-width="0.8"/>
</g>
<g clip-path="url(#cid)">
<polyline points="393.8,226.38 443.63,192.45 493.47,203.74 543.3,198.3" fill="none" stroke="#0000d0" stroke-width="1.5" stroke-linejoin="round"/>
<rect x="392.5" y="225.08" width="2.6" height="2.6" fill="none" stroke="#0000d0" stroke-width="0.8"/>
<rect x="442.33" y="191.15" width="2.6" height="2.6" fill="none" stroke="#0000d0" stroke-width="0.8"/>
<rect x="492.17" y="202.44" width="2.6" height="2.6" fill="none" stroke="#0000d0" stroke-width="0.8"/>
</g>
<g clip-path="url(#cid)">
<polyline points="393.8,227.59 443.63,177.19 493.47,204.61 543.3,193.05" fill="none" stroke="#007a00" stroke-width="1.5" stroke-linejoin="round"/>
<path d="M393.8 226.1L395.23 228.72L392.37 228.72Z" fill="none" stroke="#007a00" stroke-width="0.8"/>
<path d="M443.63 175.7L445.06 178.32L442.2 178.32Z" fill="none" stroke="#007a00" stroke-width="0.8"/>
<path d="M493.47 203.12L494.9 205.73L492.04 205.73Z" fill="none" stroke="#007a00" stroke-width="0.8"/>
</g>
<rect x="393.8" y="173.6" width="119.6" height="56.5" fill="none" stroke="#222" stroke-width="1.0"/>
<path d="M393.8 230.1V226.1M443.63 230.1V226.1M493.47 230.1V226.1M418.72 230.1V227.6M468.55 230.1V227.6" stroke="#222" stroke-width="1.0" fill="none"/>
<text x="393.8" y="241.6" text-anchor="middle" font-size="9">0</text>
<text x="443.63" y="241.6" text-anchor="middle" font-size="9">5</text>
<text x="493.47" y="241.6" text-anchor="middle" font-size="9">10</text>
<path d="M393.8 219.06H397.8M393.8 198.9H397.8M393.8 178.74H397.8M393.8 208.98H396.3M393.8 188.82H396.3" stroke="#222" stroke-width="1.0" fill="none"/>
<text x="390" y="222.26" text-anchor="end" font-size="9">-0.3</text>
<text x="390" y="202.1" text-anchor="end" font-size="9">0</text>
<text x="390" y="181.94" text-anchor="end" font-size="9">0.3</text>
<text x="277.3" y="360.3" text-anchor="middle" font-size="9.2">Distance from the substrate, z (Å)</text>
<text transform="translate(10.2,83.4) rotate(-90)" text-anchor="middle" font-size="9.2">Backbone Segment Concentration (Å<tspan dy="-5" font-size="6.5">-3</tspan><tspan dy="5">)</tspan></text>
<text transform="translate(14.3,253.3) rotate(-90)" text-anchor="middle" font-size="9.2" font-family="Liberation Sans, sans-serif">P<tspan dy="3" font-size="6.2">2</tspan><tspan dy="-3">(cos θ)</tspan></text>
</svg>
</body></html>
